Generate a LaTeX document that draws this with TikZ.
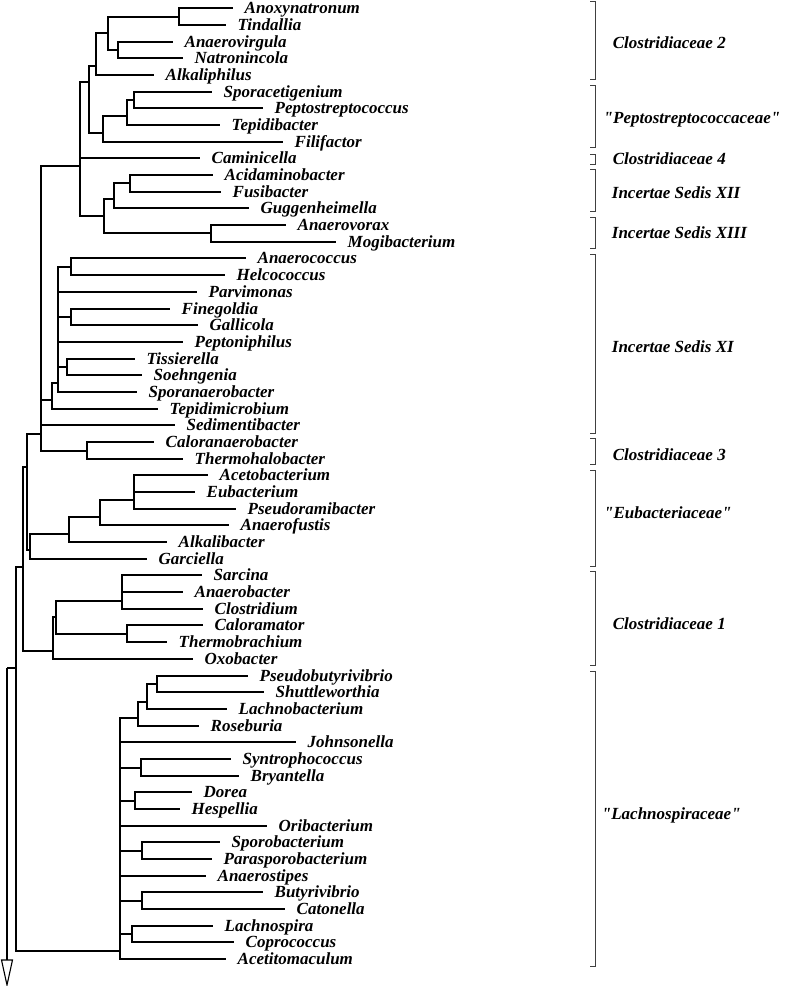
\documentclass[tikz,border=0pt]{standalone}
\usepackage{fontspec}
\setmainfont{Liberation Serif}[Ligatures=TeXOff]
\usepackage{tikz}
\tikzstyle{genus} = [anchor=west, inner xsep=11.5pt, inner ysep=0pt, text height=11.2pt, text depth=0pt, font=\fontsize{17}{17}\selectfont\bfseries\itshape]
\tikzstyle{family} = [anchor=west, inner sep=0pt, text height=11.2pt, text depth=0pt, font=\fontsize{17}{17}\selectfont\bfseries\itshape]
\tikzstyle{branch} = [line width=1.9pt]
\tikzstyle{bracket} = [line width=1pt, draw=black!75]

\begin{document}
\begin{tikzpicture}[x=1pt, y=-1pt]
	
	\useasboundingbox (0,0) rectangle (785,986);
	
	\node (g0) [genus] at (233, 8) {Anoxynatronum};
	\node (g1) [genus] at (226, 25) {Tindallia};
	\node (g2) [genus] at (173, 42) {Anaerovirgula};
	\node (g3) [genus] at (183, 58) {Natronincola};
	\node (g4) [genus] at (154, 75) {Alkaliphilus};
	\node (g5) [genus] at (212, 92) {Sporacetigenium};
	\node (g6) [genus] at (263, 108) {Peptostreptococcus};
	\node (g7) [genus] at (220, 125) {Tepidibacter};
	\node (g8) [genus] at (283, 142) {Filifactor};
	\node (g9) [genus] at (200, 158) {Caminicella};
	\node (g10) [genus] at (213, 175) {Acidaminobacter};
	\node (g11) [genus] at (221, 192) {Fusibacter};
	\node (g12) [genus] at (249, 208) {Guggenheimella};
	\node (g13) [genus] at (286, 225) {Anaerovorax};
	\node (g14) [genus] at (336, 242) {Mogibacterium};
	\node (g15) [genus] at (246, 258) {Anaerococcus};
	\node (g16) [genus] at (225, 275) {Helcococcus};
	\node (g17) [genus] at (197, 292) {Parvimonas};
	\node (g18) [genus] at (170, 309) {Finegoldia};
	\node (g19) [genus] at (198, 325) {Gallicola};
	\node (g20) [genus] at (183, 342) {Peptoniphilus};
	\node (g21) [genus] at (135, 359) {Tissierella};
	\node (g22) [genus] at (142, 375) {Soehngenia};
	\node (g23) [genus] at (137, 392) {Sporanaerobacter};
	\node (g24) [genus] at (158, 409) {Tepidimicrobium};
	\node (g25) [genus] at (175, 425) {Sedimentibacter};
	\node (g26) [genus] at (154, 442) {Caloranaerobacter};
	\node (g27) [genus] at (183, 459) {Thermohalobacter};
	\node (g28) [genus] at (208, 475) {Acetobacterium};
	\node (g29) [genus] at (195, 492) {Eubacterium};
	\node (g30) [genus] at (236, 509) {Pseudoramibacter};
	\node (g31) [genus] at (229, 525) {Anaerofustis};
	\node (g32) [genus] at (167, 542) {Alkalibacter};
	\node (g33) [genus] at (147, 559) {Garciella};
	\node (g34) [genus] at (202, 575) {Sarcina};
	\node (g35) [genus] at (183, 592) {Anaerobacter};
	\node (g36) [genus] at (203, 609) {Clostridium};
	\node (g37) [genus] at (203, 625) {Caloramator};
	\node (g38) [genus] at (167, 642) {Thermobrachium};
	\node (g39) [genus] at (193, 659) {Oxobacter};
	\node (g40) [genus] at (248, 676) {Pseudobutyrivibrio};
	\node (g41) [genus] at (264, 692) {Shuttleworthia};
	\node (g42) [genus] at (227, 709) {Lachnobacterium};
	\node (g43) [genus] at (199, 726) {Roseburia};
	\node (g44) [genus] at (296, 742) {Johnsonella};
	\node (g45) [genus] at (231, 759) {Syntrophococcus};
	\node (g46) [genus] at (239, 776) {Bryantella};
	\node (g47) [genus] at (192, 792) {Dorea};
	\node (g48) [genus] at (180, 809) {Hespellia};
	\node (g49) [genus] at (267, 826) {Oribacterium};
	\node (g50) [genus] at (220, 842) {Sporobacterium};
	\node (g51) [genus] at (212, 859) {Parasporobacterium};
	\node (g52) [genus] at (206, 876) {Anaerostipes};
	\node (g53) [genus] at (263, 892) {Butyrivibrio};
	\node (g54) [genus] at (285, 909) {Catonella};
	\node (g55) [genus] at (213, 926) {Lachnospira};
	\node (g56) [genus] at (234, 942) {Coprococcus};
	\node (g57) [genus] at (226, 959) {Acetitomaculum};
	
	\coordinate (a1) at (179, 17);
	\coordinate (a2) at (118, 50);
	\coordinate (a3) at (108, 33);
	\coordinate (a4) at (96, 66);
	\coordinate (p1) at (134, 100);
	\coordinate (p2) at (127, 116);
	\coordinate (p3) at (103, 133);
	\coordinate (a5) at (89, 82);
	\coordinate (i1) at (130, 183);
	\coordinate (i2) at (114, 199);
	\coordinate (i4) at (211, 233);
	\coordinate (i3) at (104, 216);
	\coordinate (a6) at (80, 166);
	\coordinate (x0) at (71, 267);
	\coordinate (x1) at (71, 317);
	\coordinate (x2) at (67, 367);
	\coordinate (x3) at (58, 383);
	\coordinate (x4) at (52, 400);
	\coordinate (c3) at (87, 451);
	\coordinate (b1) at (41, 434);
	\coordinate (e1) at (134, 500);
	\coordinate (e2) at (100, 517);
	\coordinate (e3) at (69, 534);
	\coordinate (e4) at (30, 550);
	\coordinate (b2) at (27, 467);
	\coordinate (k1) at (122, 601);
	\coordinate (k2) at (127, 634);
	\coordinate (k3) at (56, 617);
	\coordinate (k4) at (53, 651);
	\coordinate (b3) at (23, 567);
	\coordinate (l1) at (157, 684);
	\coordinate (l2) at (147, 702);
	\coordinate (l3) at (138, 718);
	\coordinate (m1) at (141, 768);
	\coordinate (m2) at (135, 801);
	\coordinate (m3) at (142, 851);
	\coordinate (m4) at (142, 901);
	\coordinate (m5) at (132, 934);
	\coordinate (l4) at (120, 951);
	\coordinate (r) at (16, 668);
	\coordinate (o) at (7, 668);
	\coordinate (tip) at (7, 960);
	
	\draw [branch] (a1) |- (g0.west) (a1) |- (g1.west);
	\draw [branch] (a2) |- (g2.west) (a2) |- (g3.west);
	\draw [branch] (a3) |- (a1) (a3) |- (a2);
	\draw [branch] (a4) |- (a3) (a4) |- (g4.west);
	\draw [branch] (p1) |- (g5.west) (p1) |- (g6.west);
	\draw [branch] (p2) |- (p1) (p2) |- (g7.west);
	\draw [branch] (p3) |- (p2) (p3) |- (g8.west);
	\draw [branch] (a5) |- (a4) (a5) |- (p3);
	\draw [branch] (i1) |- (g10.west) (i1) |- (g11.west);
	\draw [branch] (i2) |- (i1) (i2) |- (g12.west);
	\draw [branch] (i4) |- (g13.west) (i4) |- (g14.west);
	\draw [branch] (i3) |- (i2) (i3) |- (i4);
	\draw [branch] (a6) |- (a5) (a6) |- (g9.west) (a6) |- (i3);
	
	\draw [branch] (x0) |- (g15.west) (x0) |- (g16.west);
	\draw [branch] (x1) |- (g18.west) (x1) |- (g19.west);
	\draw [branch] (x2) |- (g21.west) (x2) |- (g22.west);
	\draw [branch] (x3) |- (x0) (x3) |- (g17.west) (x3) |- (x1) (x3) |- (g20.west) (x3) |- (x2) (x3) |- (g23.west);
	\draw [branch] (x4) |- (x3) (x4) |- (g24.west);
	\draw [branch] (c3) |- (g26.west) (c3) |- (g27.west);
	\draw [branch] (b1) |- (a6) (b1) |- (x4) (b1) |- (g25.west) (b1) |- (c3);
	
	\draw [branch] (e1) |- (g28.west) (e1) |- (g29.west) (e1) |- (g30.west);
	\draw [branch] (e2) |- (e1) (e2) |- (g31.west);
	\draw [branch] (e3) |- (e2) (e3) |- (g32.west);
	\draw [branch] (e4) |- (e3) (e4) |- (g33.west);
	\draw [branch] (b2) |- (b1) (b2) |- (e4);
	
	\draw [branch] (k1) |- (g34.west) (k1) |- (g35.west) (k1) |- (g36.west);
	\draw [branch] (k2) |- (g37.west) (k2) |- (g38.west);
	\draw [branch] (k3) |- (k1) (k3) |- (k2);
	\draw [branch] (k4) |- (k3) (k4) |- (g39.west);
	\draw [branch] (b3) |- (b2) (b3) |- (k4);
	
	\draw [branch] (l1) |- (g40.west) (l1) |- (g41.west);
	\draw [branch] (l2) |- (l1) (l2) |- (g42.west);
	\draw [branch] (l3) |- (l2) (l3) |- (g43.west);
	\draw [branch] (m1) |- (g45.west) (m1) |- (g46.west);
	\draw [branch] (m2) |- (g47.west) (m2) |- (g48.west);
	\draw [branch] (m3) |- (g50.west) (m3) |- (g51.west);
	\draw [branch] (m4) |- (g53.west) (m4) |- (g54.west);
	\draw [branch] (m5) |- (g55.west) (m5) |- (g56.west);
	\draw [branch] (l4) |- (l3) (l4) |- (g44.west) (l4) |- (m1) (l4) |- (m2) (l4) |- (g49.west) (l4) |- (m3) (l4) |- (g52.west) (l4) |- (m4) (l4) |- (m5) (l4) |- (g57.west);
	
	\draw [branch] (r) |- (b3) (r) |- (l4);
	\draw [branch] (o) -- (r) (o) -- (tip);
	\draw [line width=1.1pt] (tip) ++(-5.5,0) -- ++(11,0) -- (7,985) -- cycle;
	
	\draw [bracket] (590,1.5) -- (595.5,1.5) -- (595.5,79.5) -- (590,79.5);
	\draw [bracket] (590,85.5) -- (595.5,85.5) -- (595.5,147.5) -- (590,147.5);
	\draw [bracket] (590,154.5) -- (595.5,154.5) -- (595.5,164.5) -- (590,164.5);
	\draw [bracket] (590,169.5) -- (595.5,169.5) -- (595.5,211.5) -- (590,211.5);
	\draw [bracket] (590,217.5) -- (595.5,217.5) -- (595.5,248.5) -- (590,248.5);
	\draw [bracket] (590,254.5) -- (595.5,254.5) -- (595.5,433.5) -- (590,433.5);
	\draw [bracket] (590,438.5) -- (595.5,438.5) -- (595.5,464.5) -- (590,464.5);
	\draw [bracket] (590,470.5) -- (595.5,470.5) -- (595.5,566.5) -- (590,566.5);
	\draw [bracket] (590,571.5) -- (595.5,571.5) -- (595.5,665.5) -- (590,665.5);
	\draw [bracket] (590,671.5) -- (595.5,671.5) -- (595.5,966.5) -- (590,966.5);
	
	\node (f1) [family] at (612.7, 42.5) {Clostridiaceae 2};
	\node (f2) [family] at (603.5, 117.5) {"Peptostreptococcaceae"};
	\node (f3) [family] at (612.7, 159) {Clostridiaceae 4};
	\node (f4) [family] at (611.7, 193) {Incertae Sedis XII};
	\node (f5) [family] at (611.7, 232.5) {Incertae Sedis XIII};
	\node (f6) [family] at (611.7, 346.5) {Incertae Sedis XI};
	\node (f7) [family] at (612.7, 455) {Clostridiaceae 3};
	\node (f8) [family] at (604, 513) {"Eubacteriaceae"};
	\node (f9) [family] at (612.7, 624) {Clostridiaceae 1};
	\node (f10) [family] at (601.7, 813.5) {"Lachnospiraceae"};
	
\end{tikzpicture}
\end{document}
